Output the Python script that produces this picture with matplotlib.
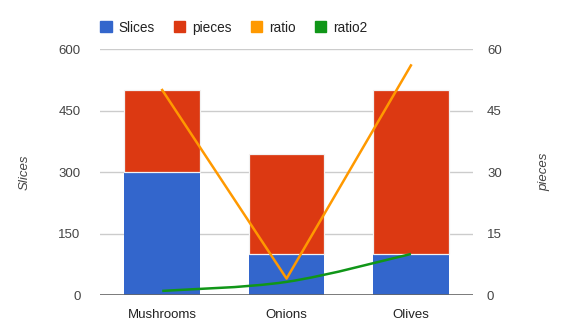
import numpy as np
import matplotlib
matplotlib.use("Agg")
import matplotlib.pyplot as plt
from matplotlib.path import Path
from matplotlib.patches import PathPatch, Patch

plt.rcParams["font.family"] = ["Liberation Sans", "DejaVu Sans"]

# data
categories = ["Mushrooms", "Onions", "Olives"]
slices = [300, 100, 100]
pieces = [200, 245, 400]
ratio = [50, 4, 56]
ratio2 = [1, 3.2, 10]

blue, red, orange, green = "#3366cc", "#dc3912", "#ff9900", "#109618"
txt = "#444444"

fig = plt.figure(figsize=(5.67, 3.35), dpi=100)
ax = fig.add_axes([0.1764, 0.1194, 0.658, 0.7343])
x = np.arange(len(categories))

ax.bar(x, slices, width=0.61, color=blue, edgecolor="none", zorder=2)
ax.bar(x, pieces, width=0.61, bottom=slices, color=red,
       edgecolor="#f2f2f2", linewidth=0.9, zorder=2)

ax.set_xlim(-0.5, 2.5)
ax.set_ylim(0, 600)
ax.set_yticks([0, 150, 300, 450, 600])
ax.set_xticks(x)
ax.set_xticklabels(categories)
ax.grid(axis="y", color="#cccccc", linewidth=1, zorder=0)
ax.set_axisbelow(True)
for s in ax.spines.values():
    s.set_visible(False)
ax.axhline(0, color="#666666", linewidth=1.2, zorder=3)
ax.tick_params(length=0, colors=txt, labelsize=9.5)
ax.tick_params(axis="y", pad=14)
ax.tick_params(axis="x", pad=10, colors="#222222")
ax.set_ylabel("Slices", style="italic", color=txt, fontsize=9.5, labelpad=20)

ax2 = ax.twinx()
ax2.set_ylim(0, 60)
ax2.set_yticks([0, 15, 30, 45, 60])
for s in ax2.spines.values():
    s.set_visible(False)
ax2.tick_params(length=0, colors=txt, labelsize=9.5, pad=10)
ax2.set_ylabel("pieces", style="italic", color=txt, fontsize=9.5, labelpad=26)

ax2.plot(x, ratio, color=orange, linewidth=1.8, zorder=4)

# smooth curve for ratio2 (cubic bezier through the points)
pts = np.column_stack([x, ratio2]).astype(float)
verts = [tuple(pts[0])]
codes = [Path.MOVETO]
for i in range(len(pts) - 1):
    p0 = pts[max(i - 1, 0)]
    p1, p2 = pts[i], pts[i + 1]
    p3 = pts[min(i + 2, len(pts) - 1)]
    c1 = p1 + (p2 - p0) / 6
    c2 = p2 - (p3 - p1) / 6
    verts += [tuple(c1), tuple(c2), tuple(p2)]
    codes += [Path.CURVE4] * 3
ax2.add_patch(PathPatch(Path(verts, codes), facecolor="none",
                        edgecolor=green, linewidth=1.8, zorder=4))

handles = [Patch(color=blue), Patch(color=red), Patch(color=orange), Patch(color=green)]
fig.legend(handles, ["Slices", "pieces", "ratio", "ratio2"], loc="upper left",
           bbox_to_anchor=(0.155, 0.975), ncol=4, frameon=False, fontsize=9.8,
           handlelength=0.85, handleheight=0.85, handletextpad=0.5,
           columnspacing=1.4, labelcolor="#222222")

fig.savefig("out.png", dpi=100)
